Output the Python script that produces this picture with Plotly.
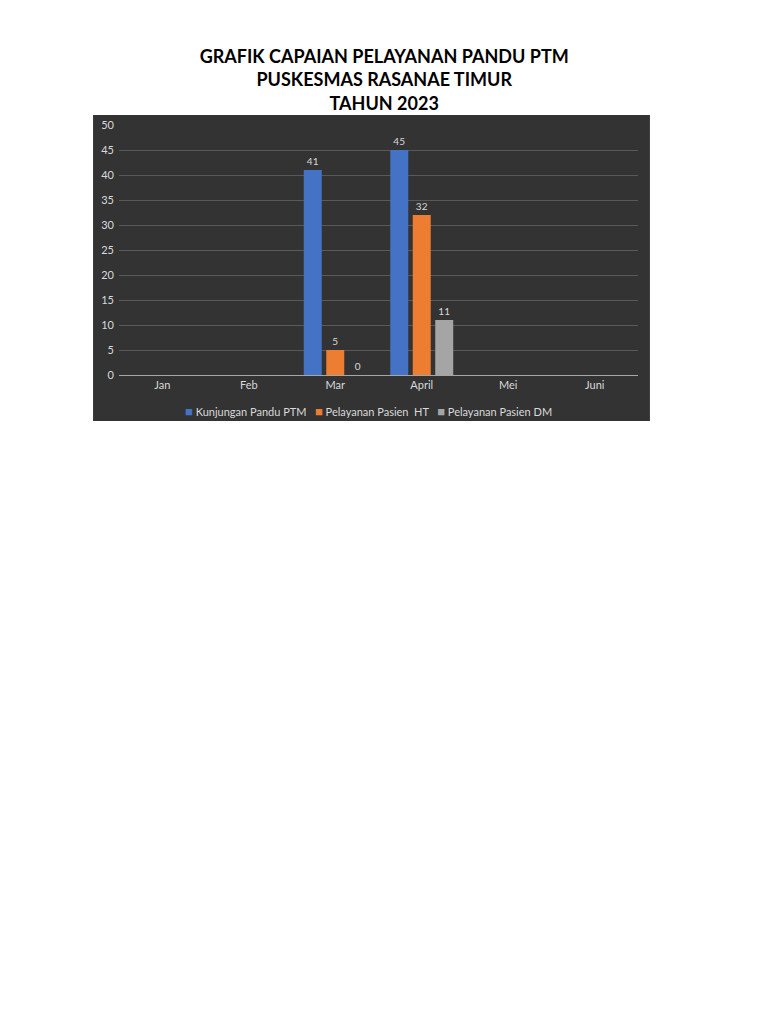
import plotly.graph_objects as go

# data
bulan = ["Jan", "Feb", "Mar", "April", "Mei", "Juni"]
kunjungan_ptm = [None, None, 41, 45, None, None]
pasien_ht = [None, None, 5, 32, None, None]
pasien_dm = [None, None, 0, 11, None, None]

series = [
    ("Kunjungan Pandu PTM", kunjungan_ptm, "#4472C4"),
    ("Pelayanan Pasien  HT", pasien_ht, "#ED7D31"),
    ("Pelayanan Pasien DM", pasien_dm, "#A5A5A5"),
]

fig = go.Figure()
for name, vals, color in series:
    fig.add_trace(go.Bar(
        x=bulan, y=vals, name=name,
        marker=dict(color=color, line=dict(width=0)),
        text=[("" if v is None else str(v)) for v in vals],
        textposition="outside", cliponaxis=False,
        textfont=dict(color="#d9d9d9", size=10),
        showlegend=False,
    ))

# dark chart box behind the plot area
fig.add_shape(type="rect", xref="paper", yref="paper",
              x0=-0.05, x1=1.023, y0=-0.184, y1=1.04,
              fillcolor="#333333", line=dict(width=0), layer="below")

# compact legend like the Excel one: small squares with text right after
legend_text = "&nbsp;&nbsp;&nbsp;".join(
    f"<span style='color:{c};font-size:13px'>■</span> {n.replace('  ', '&nbsp;&nbsp;')}"
    for n, _, c in series
)
fig.add_annotation(text=legend_text, xref="paper", yref="paper",
                   x=0.48, y=-0.144, xanchor="center", yanchor="middle",
                   showarrow=False, font=dict(size=11, color="#d9d9d9"))

fig.update_layout(
    width=768, height=1024,
    margin=dict(l=111, r=138, t=117, b=657),
    paper_bgcolor="white",
    plot_bgcolor="rgba(0,0,0,0)",
    font=dict(family="Lato, Open Sans, sans-serif", color="#d9d9d9", size=10),
    barmode="group", bargap=0.22, bargroupgap=0.2,
    title=dict(
        text="GRAFIK CAPAIAN PELAYANAN PANDU PTM<br>PUSKESMAS RASANAE TIMUR<br>TAHUN 2023",
        x=0.511, xanchor="center", xref="paper",
        y=1 - 55 / 1024, yanchor="top", yref="container",
        font=dict(family="Lato, Open Sans, sans-serif", size=18, color="black", weight="bold"),
    ),
    xaxis=dict(showgrid=False, showline=True, linecolor="#a6a6a6", linewidth=1,
               tickfont=dict(size=11, color="#d9d9d9"), ticks=""),
    yaxis=dict(range=[0, 50], dtick=5, showgrid=True, gridcolor="#595959", gridwidth=1,
               zeroline=False, tickfont=dict(size=11, color="#d9d9d9"), ticks="",
               ticklabelstandoff=4),
)

fig.write_html("out.html")
